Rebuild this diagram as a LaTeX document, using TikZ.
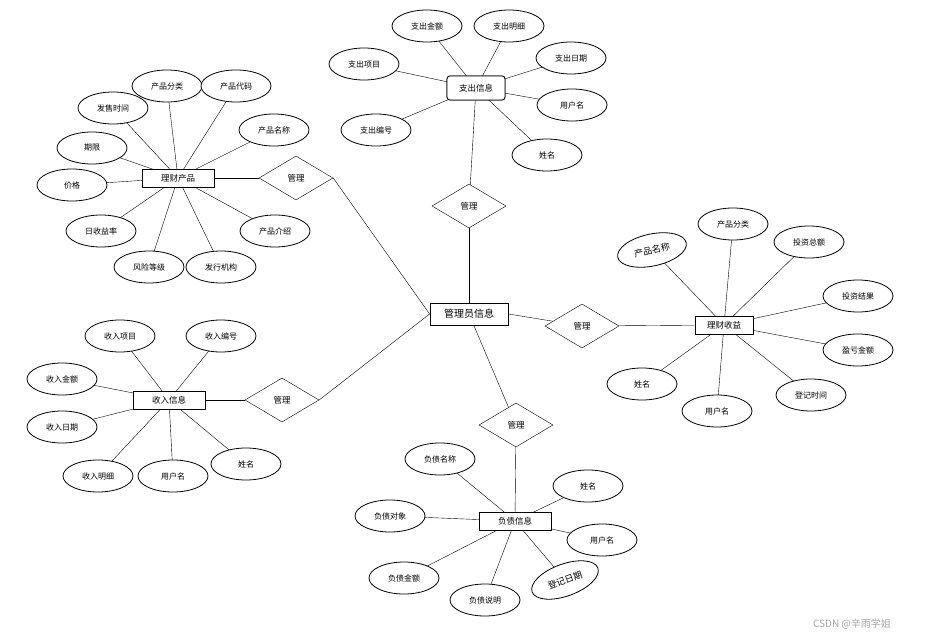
\documentclass[tikz,border=0pt]{standalone}
\usepackage{fontspec}
\setmainfont{Noto Sans CJK SC}
\usetikzlibrary{shapes.geometric}
\begin{document}
\begin{tikzpicture}[x=1pt,y=-1pt,
 attr/.style={ellipse,draw,thick,fill=white,minimum width=70pt,minimum height=32pt,inner sep=0pt,font=\fontsize{8}{9}\selectfont},
 ent/.style={rectangle,draw,thick,fill=white,minimum width=72pt,minimum height=18pt,inner sep=1pt,font=\fontsize{8.5}{10}\selectfont},
 rel/.style={diamond,draw,thin,fill=white,minimum width=74pt,minimum height=44pt,inner sep=0pt,aspect=1.7,font=\fontsize{8.5}{10}\selectfont},
 ln/.style={draw,thin}]
\useasboundingbox (0,0) rectangle (934,639);
% entities
\node[ent] (lc) at (178,178) {理财产品};
\node[ent,rounded corners=3pt,minimum width=58pt,minimum height=24pt] (zc) at (476,88) {支出信息};
\node[ent,minimum width=78pt,minimum height=22pt,font=\fontsize{10}{12}\selectfont] (gl) at (469,314) {管理员信息};
\node[ent,minimum width=58pt] (sy) at (724,325) {理财收益};
\node[ent] (sr) at (169,400) {收入信息};
\node[ent] (fz) at (515,521) {负债信息};
% relations
\node[rel] (r1) at (296,178) {管理};
\node[rel] (r2) at (469,206) {管理};
\node[rel] (r3) at (582,326) {管理};
\node[rel] (r4) at (282,400) {管理};
\node[rel] (r5) at (516,425) {管理};
\draw[ln] (lc) -- (r1); \draw[ln] (r1.east) -- (gl.west);
\draw[ln] (zc) -- (r2); \draw[ln] (r2) -- (gl);
\draw[ln] (gl.east) -- (r3); \draw[ln] (r3) -- (sy);
\draw[ln] (sr) -- (r4); \draw[ln] (r4.east) -- (gl.west);
\draw[ln] (gl) -- (r5); \draw[ln] (r5) -- (fz);
% attributes
\begin{scope}
\foreach \n/\x/\y/\t in {a1/113/108/发售时间,a2/167/86/产品分类,a3/236/86/产品代码,a4/274/130/产品名称,a5/92/148/期限,a6/72/185/价格,a7/101/231/日收益率,a8/149/267/风险等级,a9/221/267/发行机构,a10/275/231/产品介绍}
 {\draw[ln] (lc.center) -- (\x,\y); \node[attr] (\n) at (\x,\y) {\t};}
\foreach \n/\x/\y/\t in {b1/427/26/支出金额,b2/509/26/支出明细,b3/571/58/支出日期,b4/364/64/支出项目,b5/572/105/用户名,b6/376/130/支出编号,b7/547/155/姓名}
 {\draw[ln] (zc.center) -- (\x,\y); \node[attr] (\n) at (\x,\y) {\t};}
\foreach \n/\x/\y/\t in {c2/733/224/产品分类,c3/809/242/投资总额,c4/858/296/投资结果,c5/858/350/盈亏金额,c6/811/395/登记时间,c7/717/411/用户名,c8/642/384/姓名}
 {\draw[ln] (sy.center) -- (\x,\y); \node[attr] (\n) at (\x,\y) {\t};}
\draw[ln] (sy.center) -- (652,250);
\node[attr,rotate=12,font=\fontsize{9}{10}\selectfont] (c1) at (652,250) {产品名称};
\foreach \n/\x/\y/\t in {d1/120/336/收入项目,d2/221/336/收入编号,d3/62/379/收入金额,d4/62/427/收入日期,d5/98/476/收入明细,d6/173/476/用户名,d7/246/464/姓名}
 {\draw[ln] (sr.center) -- (\x,\y); \node[attr] (\n) at (\x,\y) {\t};}
\foreach \n/\x/\y/\t in {e1/440/459/负债名称,e2/588/486/姓名,e3/390/516/负债对象,e4/602/540/用户名,e5/404/578/负债金额,e6/485/600/负债说明}
 {\draw[ln] (fz.center) -- (\x,\y); \node[attr] (\n) at (\x,\y) {\t};}
\draw[ln] (fz.center) -- (565,580);
\node[attr,rotate=20,font=\fontsize{9}{10}\selectfont] (e7) at (565,580) {登记日期};
\end{scope}
% redraw entities on top
\node[ent] at (lc) {理财产品};
\node[ent,rounded corners=3pt,minimum width=58pt,minimum height=24pt] at (zc) {支出信息};
\node[ent,minimum width=58pt] at (sy) {理财收益};
\node[ent] at (sr) {收入信息};
\node[ent] at (fz) {负债信息};
\node[gray!70,font=\fontsize{10}{12}\selectfont] (wm) at (852,624) {CSDN @辛雨学姐};
\end{tikzpicture}
\end{document}
